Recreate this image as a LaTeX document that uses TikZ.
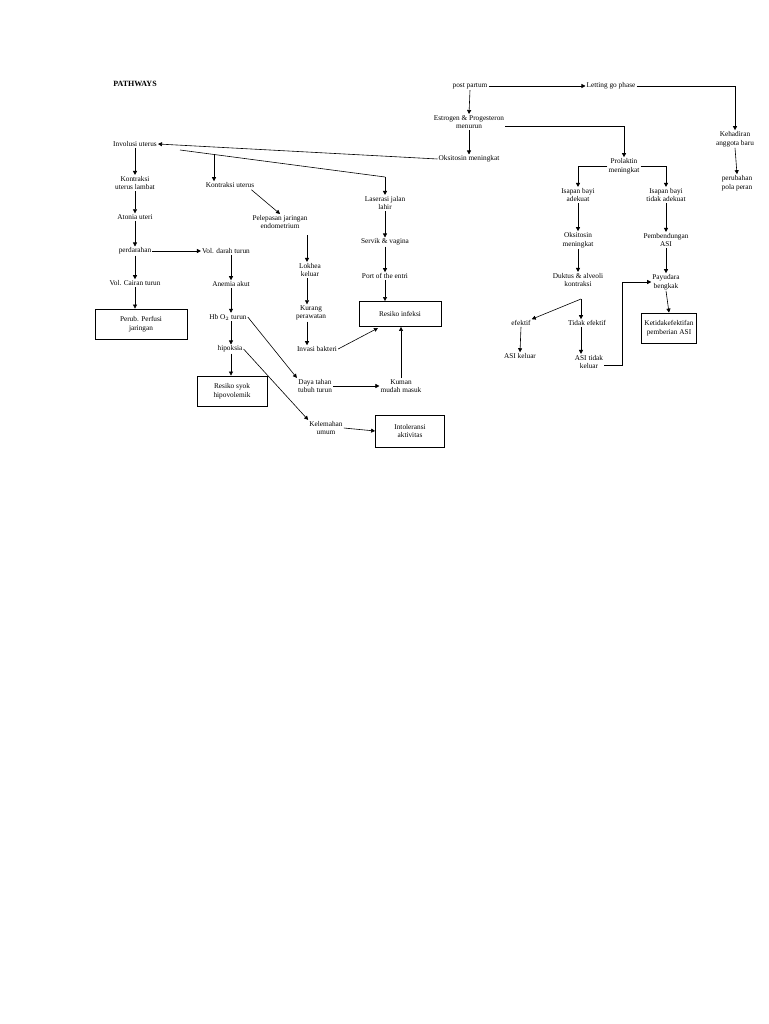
\documentclass[tikz,border=0pt]{standalone}
\usepackage{fontspec}
\setmainfont{Liberation Serif}
\usetikzlibrary{arrows.meta}
\begin{document}
\begin{tikzpicture}[x=1pt,y=-1pt,
  t/.style={font=\fontsize{7.3}{8.6}\selectfont,align=center,inner sep=1pt},
  bx/.style={t,draw,line width=0.8pt,minimum height=30pt,inner sep=3pt},
  ar/.style={-{Triangle[length=4pt,width=4pt]},line width=0.6pt},
  ln/.style={line width=0.6pt}]
\useasboundingbox (0,0) rectangle (768,1024);
\node[font=\fontsize{8}{9}\selectfont\bfseries] (pw) at (135,84) {PATHWAYS};
% right part
\node[t] (pp) at (470,86) {post partum};
\node[t] (lg) at (611,86) {Letting go phase};
\node[t] (kh) at (735,139) {Kehadiran\\anggota baru};
\node[t] (pr) at (737,183) {perubahan\\pola peran};
\node[t] (ep) at (469,122) {Estrogen \& Progesteron\\menurun};
\node[t] (om) at (469,159) {Oksitosin meningkat};
\node[t] (pk) at (624,166) {Prolaktin\\meningkat};
\node[t] (ia) at (578,195) {Isapan bayi\\adekuat};
\node[t] (it) at (666,195) {Isapan bayi\\tidak adekuat};
\node[t] (om2) at (578,240) {Oksitosin\\meningkat};
\node[t] (pb) at (666,240) {Pembendungan\\ASI};
\node[t] (da) at (578,280) {Duktus \& alveoli\\kontraksi};
\node[t] (pyb) at (666,282) {Payudara\\bengkak};
\node[bx] (ke) at (669,328) {Ketidakefektifan\\pemberian ASI};
\node[t] (ef) at (521,323) {efektif};
\node[t] (tef) at (587,323) {Tidak efektif};
\node[t] (ak) at (520,356) {ASI keluar};
\node[t] (atk) at (589,362) {ASI tidak\\keluar};
\draw[ar] (pp.east) -- (lg.west);
\draw[ar] (lg.east) -| (kh.north);
\draw[ar] (kh.south) -- (pr.north);
\draw[ar] (pp.south) -- (ep.north);
\draw[ar] (ep.south) -- (om.north);
\draw[ar] (ep.east) ++(0,4) coordinate (e1) -| (pk.north);
\draw[ar] (pk.west) -| (ia.north);
\draw[ar] (pk.east) -| (it.north);
\draw[ar] (ia.south) -- (om2.north);
\draw[ar] (om2.south) -- (da.north);
\draw[ar] (it.south) -- (pb.north);
\draw[ar] (pb.south) -- (pyb.north);
\draw[ar] (pyb.south) -- (ke.north);
\coordinate (dk) at (581,299);
\draw[ar] (dk) -- (ef.north east);
\draw[ar] (dk) -- (tef.north -| dk);
\draw[ar] (ef.south) -- (ak.north);
\draw[ar] (tef.south -| dk) -- (atk.north -| dk);
\coordinate (c1) at (622,365);
\draw[ar] (atk.east |- c1) -- (c1) |- (pyb.west);
% left column
\node[t] (iu) at (135,144) {Involusi uterus};
\node[t] (kul) at (135,183) {Kontraksi\\uterus lambat};
\node[t] (au) at (135,217) {Atonia uteri};
\node[t] (pd) at (135,251) {perdarahan};
\node[t] (vct) at (135,283) {Vol. Cairan turun};
\node[bx,minimum width=92pt] (ppj) at (141,324) {Perub. Perfusi\\jaringan};
\draw[ar] (om.west) -- (iu.east);
\draw[ar] (iu.south) -- (kul.north);
\draw[ar] (kul.south) -- (au.north);
\draw[ar] (au.south) -- (pd.north);
\draw[ar] (pd.south) -- (vct.north);
\draw[ar] (vct.south) -- (ppj.north -| vct.south);
% middle
\node[t] (ku) at (230,185) {Kontraksi uterus};
\node[t] (vdt) at (226,251) {Vol. darah turun};
\node[t] (aa) at (231,284) {Anemia akut};
\node[t] (hb) at (228,317) {Hb O$_2$ turun};
\node[t] (hp) at (230,349) {hipoksia};
\node[bx,minimum width=70pt] (rs) at (232,391) {Resiko syok\\hipovolemik};
\draw[ar] (pd.east) -- (vdt.west);
\draw[ar] (vdt.south -| aa) -- (aa.north);
\draw[ar] (aa.south) -- (hb.north -| aa);
\draw[ar] (hb.south -| aa) -- (hp.north -| aa);
\draw[ar] (hp.south -| aa) -- (rs.north -| aa);
\coordinate (b0) at (180,150);
\coordinate (b1) at (214,154.5);
\coordinate (b2) at (385,177);
\draw[ln] (b0) -- (b2);
\draw[ar] (b1) -- (ku.north -| b1);
\node[t] (pj) at (280,222) {Pelepasan jaringan\\endometrium};
\node[t] (lk) at (310,270) {Lokhea\\keluar};
\node[t] (kp) at (311,313) {Kurang\\perawatan};
\node[t] (ib) at (317,349) {Invasi bakteri};
\node[t] (lj) at (385,203) {Laserasi jalan\\lahir};
\node[t] (sv) at (385,242) {Servik \& vagina};
\node[t] (pe) at (385,276) {Port of the entri};
\node[bx,minimum width=82pt,minimum height=25pt] (ri) at (400,314) {Resiko infeksi};
\draw[ar] (b2) -- (lj.north);
\draw[ar] (lj.south) -- (sv.north);
\draw[ar] (sv.south) -- (pe.north);
\draw[ar] (pe.south) -- (ri.north -| pe);
\draw[ar] (ku.south east) ++(-4,1) -- (pj.north);
\draw[ar] (pj.south -| 307,0) ++(0,5) -- (lk.north -| 307,0);
\draw[ar] (lk.south -| 307,0) -- (kp.north -| 307,0);
\draw[ar] (kp.south -| 307,0) -- (ib.north -| 307,0);
\draw[ar] (ib.east) -- (378,328);
\node[t] (dt) at (315,386) {Daya tahan\\tubuh turun};
\node[t] (km) at (401,386) {Kuman\\mudah masuk};
\node[t] (kl) at (326,428) {Kelemahan\\umum};
\node[bx,minimum width=69pt,minimum height=32pt] (it2) at (410,431) {Intoleransi\\aktivitas};
\draw[ar] (hb.east) -- (dt.north west);
\draw[ar] (hp.east) -- (kl.north west);
\draw[ar] (dt.east) -- (km.west);
\draw[ar] (km.north) -- (ri.south -| km.north);
\draw[ar] (kl.east) -- (it2.west);
\end{tikzpicture}
\end{document}
